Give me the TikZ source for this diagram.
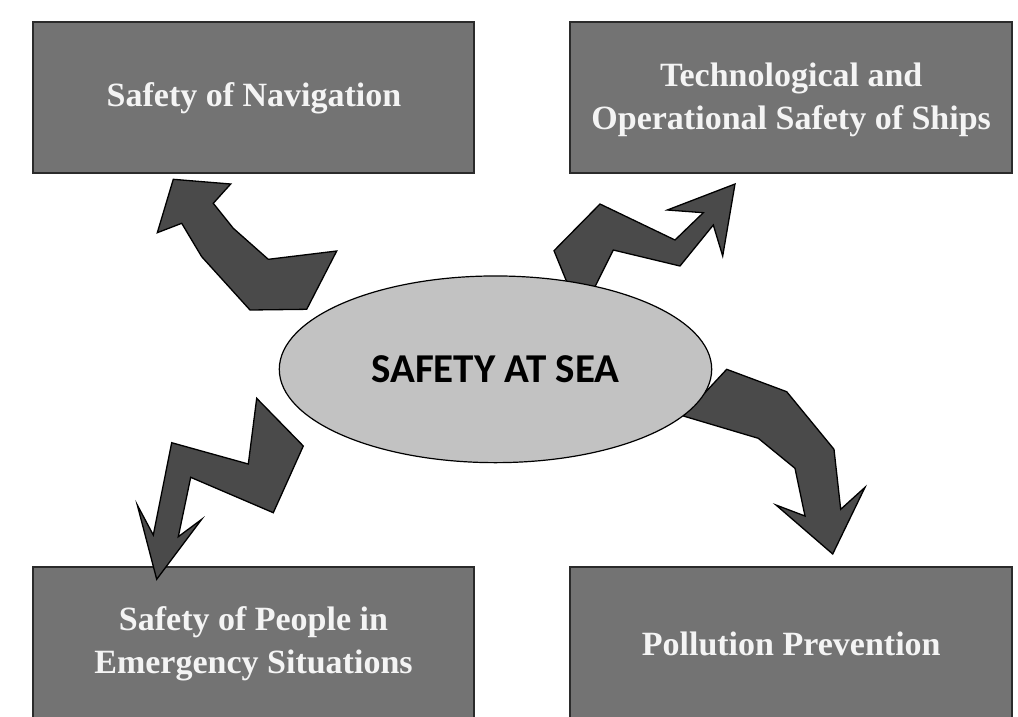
\documentclass[tikz,border=0pt]{standalone}
\usepackage{fontspec}
\setmainfont{Liberation Serif}
\newfontfamily\carlitofont{Carlito}
\usetikzlibrary{shapes.geometric}
\definecolor{boxfill}{HTML}{737373}
\definecolor{boxline}{HTML}{2B2B2B}
\definecolor{boxtext}{HTML}{F4F4F4}
\definecolor{arrowfill}{HTML}{4A4A4A}
\definecolor{ellfill}{HTML}{C2C2C2}
\tikzset{
  topicbox/.style={rectangle, draw=boxline, fill=boxfill, line width=2pt, inner sep=0pt,
    minimum width=441.6pt},
  topictext/.style={text=boxtext, align=center,
    font=\fontsize{34}{43}\selectfont\bfseries},
  blockarrow/.style={draw=black, fill=arrowfill, line width=1.3pt, line join=miter},
  hub/.style={ellipse, draw=black, fill=ellfill, line width=1.2pt, inner sep=0pt,
    minimum width=432.4pt, minimum height=186.7pt,
    font=\carlitofont\fontsize{41}{48}\selectfont\bfseries}
}
\begin{document}
\begin{tikzpicture}[x=1pt,y=-1pt]
\useasboundingbox (0,0) rectangle (1018,716);
% boxes
\node[topicbox, minimum height=151pt] (nav) at (253.5,97.2) {};
\node[topicbox, minimum height=151pt] (tech) at (791.2,97.2) {};
\node[topicbox, minimum height=153pt] (people) at (253.5,643.8) {};
\node[topicbox, minimum height=153pt] (poll) at (791.2,643.8) {};
\node[topictext] (navtxt) at (254,98.5) {Safety of Navigation};
\node[topictext] (techtxt) at (791.2,99.5) {Technological and\\Operational Safety of Ships};
\node[topictext] (peopletxt) at (253.5,644) {Safety of People in\\Emergency Situations};
\node[topictext] (polltxt) at (791.2,643.5) {Pollution Prevention};
% block arrows
\draw[blockarrow] (173.3,179.3) -- (230.7,184) -- (213.3,203.3) -- (233.3,228.3)
  -- (268.3,259.3) -- (336.7,251) -- (306.7,309.3) -- (250,310) -- (201.7,256.7)
  -- (181.7,223.3) -- (157.3,232.7) -- cycle;
\draw[blockarrow] (735,184) -- (667.3,210) -- (703.3,212.7) -- (675,240) -- (600,204)
  -- (554,250.7) -- (566.7,281.7) -- (595,286.7) -- (613.3,250) -- (680,266)
  -- (713.3,225) -- (722.7,256) -- cycle;
\draw[blockarrow] (156.7,579.3) -- (137.3,505) -- (153.3,535) -- (171.7,442.7)
  -- (248.3,464) -- (256.7,398.3) -- (303.3,446) -- (273.3,512.7) -- (190.7,477.3)
  -- (178.3,536.7) -- (201.7,519.3) -- cycle;
\draw[blockarrow] (726.7,369.3) -- (786.7,391.7) -- (834,449.3) -- (840.7,509.3)
  -- (865,487.3) -- (832.7,554) -- (776,505) -- (805,516) -- (795,468.3)
  -- (758.3,438.3) -- (683.3,416) -- cycle;
% hub
\node[hub] (sea) at (495.5,369.3) {SAFETY AT SEA};
\end{tikzpicture}
\end{document}
